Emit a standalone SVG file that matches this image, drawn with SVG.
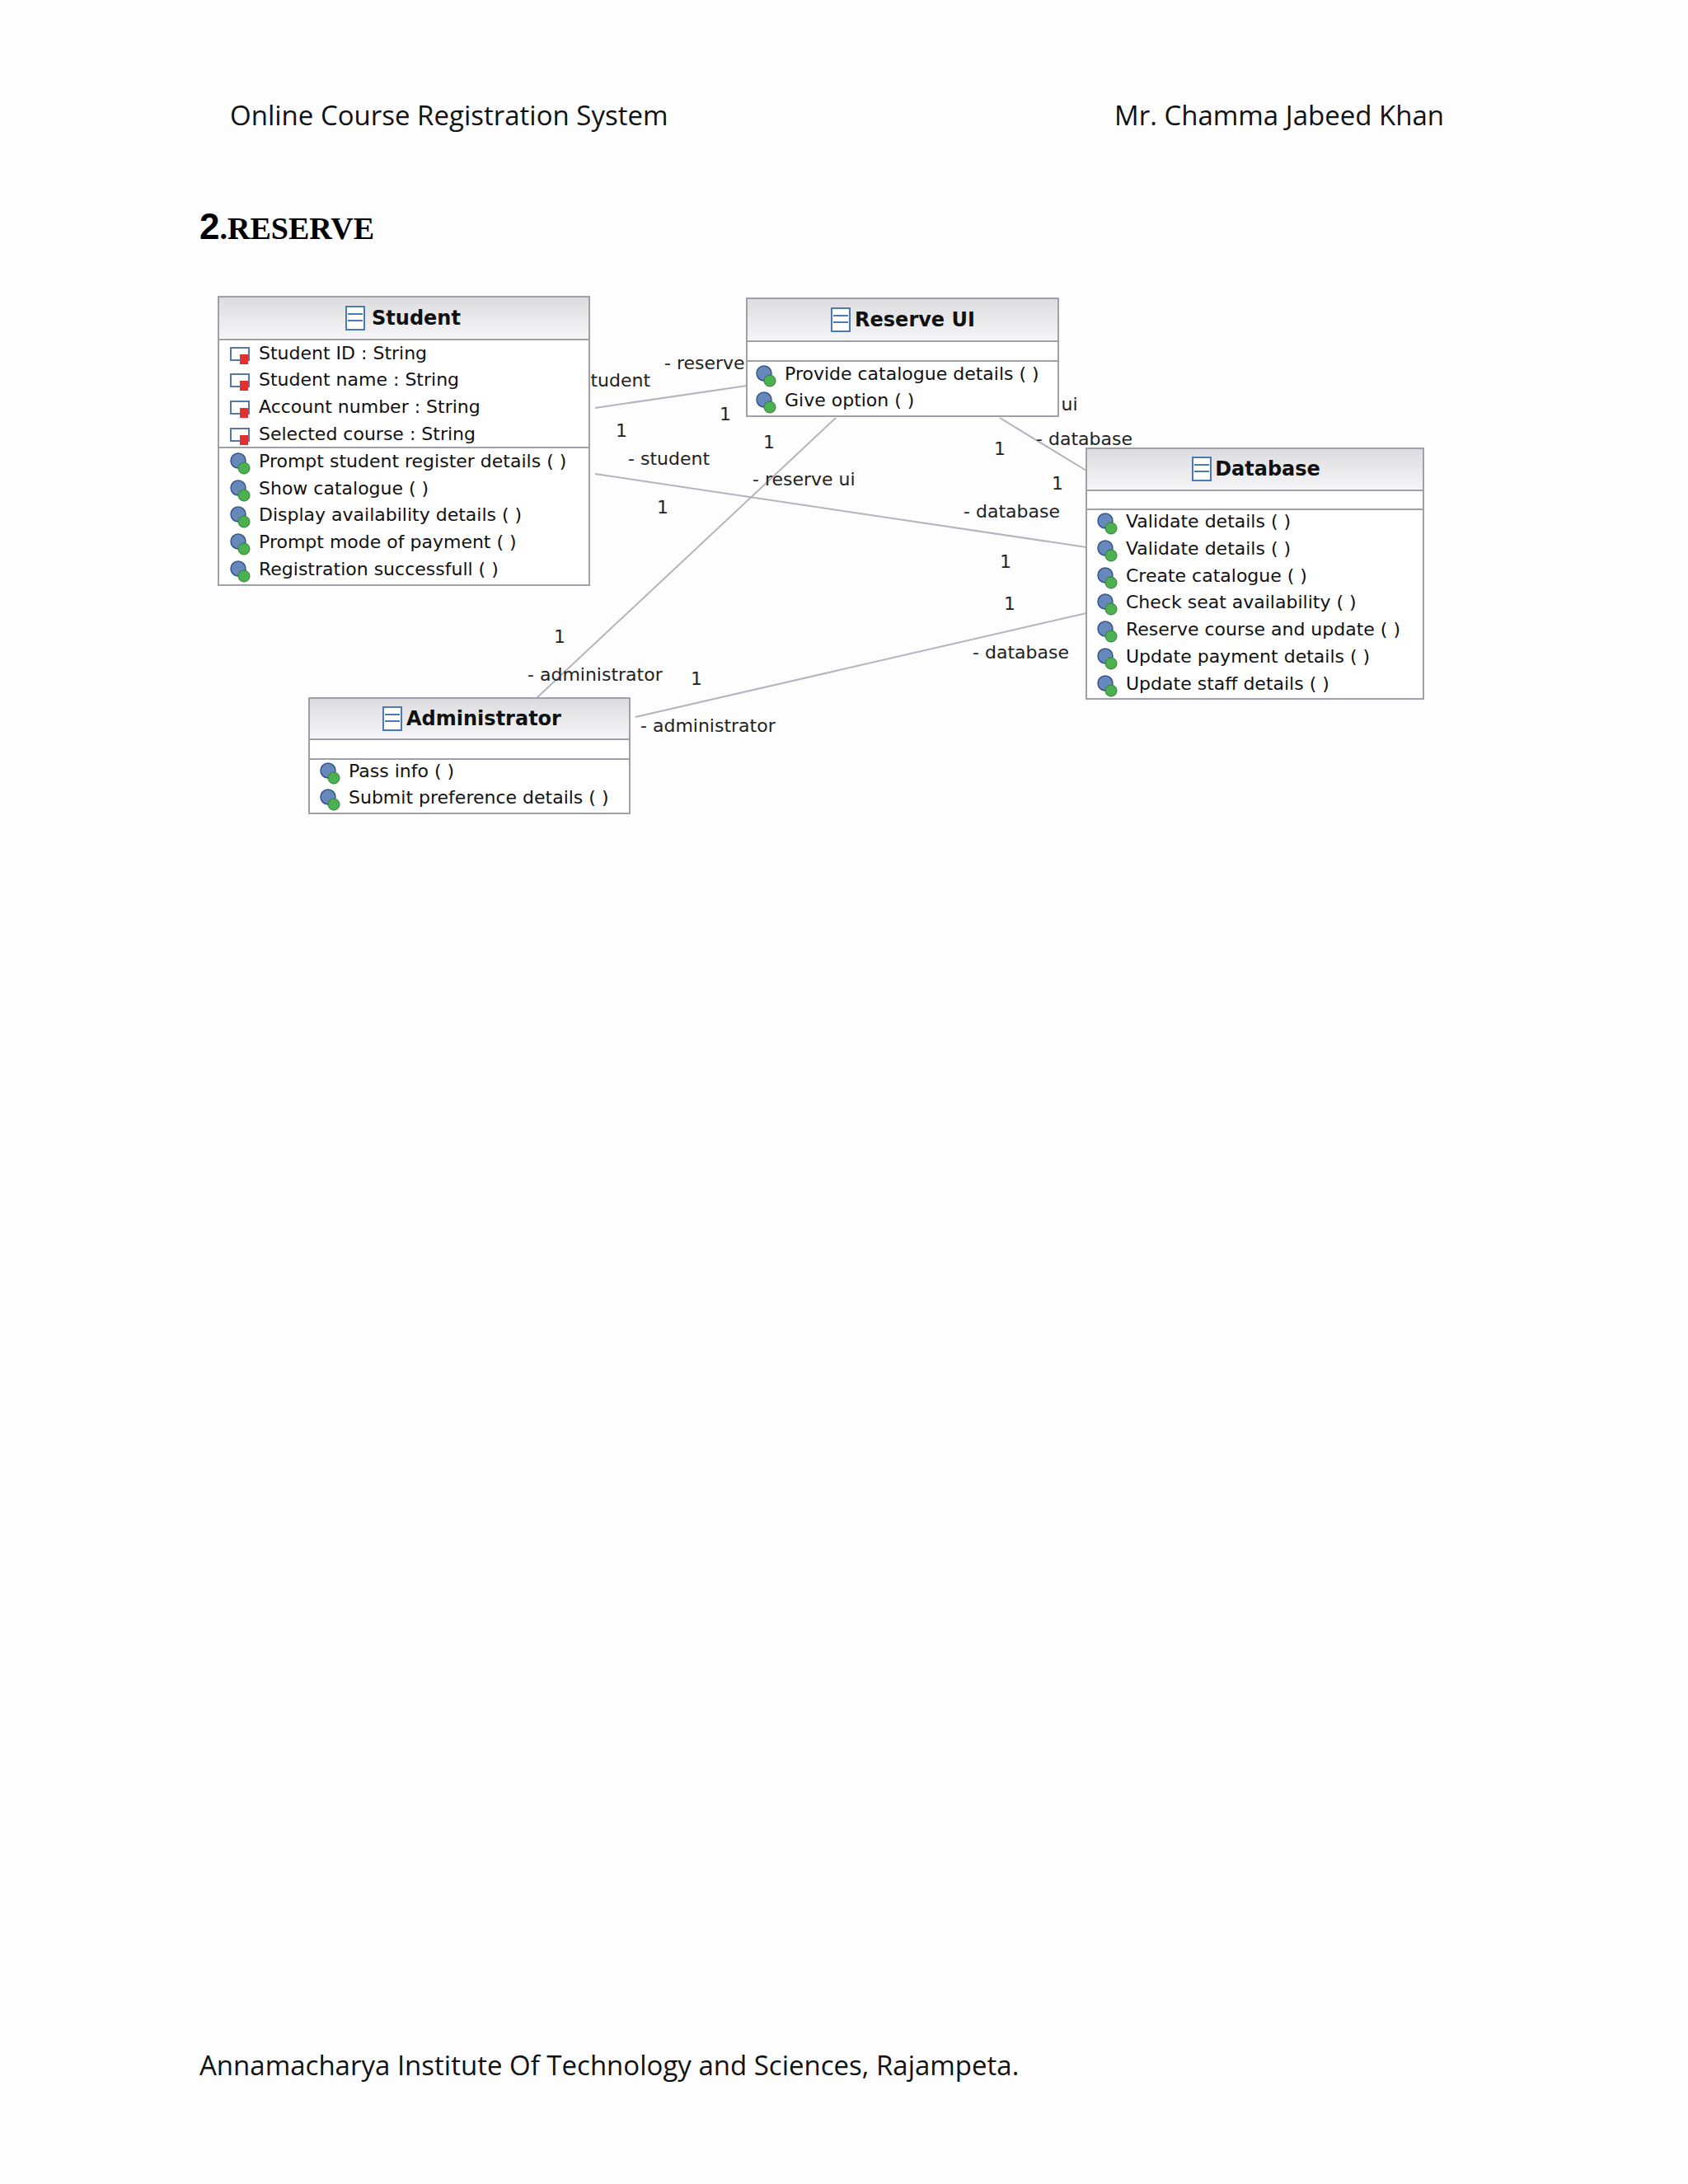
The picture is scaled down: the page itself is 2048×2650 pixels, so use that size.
<svg xmlns="http://www.w3.org/2000/svg" width="2048" height="2650" viewBox="0 0 2048 2650">
<defs>
<linearGradient id="hg" x1="0" y1="0" x2="0" y2="1"><stop offset="0" stop-color="#dcdce0"/><stop offset="1" stop-color="#f6f6f8"/></linearGradient>
<g id="ci"><rect x="0" y="0" width="22" height="28" fill="#fff" stroke="#4a78b8" stroke-width="2"/><line x1="2" y1="9" x2="20" y2="9" stroke="#4a78b8" stroke-width="2"/><line x1="2" y1="17" x2="20" y2="17" stroke="#4a78b8" stroke-width="2"/></g>
<g id="ai"><rect x="0" y="-10" width="22" height="15" fill="#fff" stroke="#5577aa" stroke-width="2"/><rect x="11" y="-2" width="10" height="12" fill="#e03030"/></g>
<g id="oi"><circle cx="9" cy="-4" r="9" fill="#6688bb" stroke="#34558a" stroke-width="1.5"/><circle cx="16" cy="5" r="7" fill="#4caf50" stroke="#2e7d32" stroke-width="1"/></g>
</defs>
<style>
.box{fill:#fff;stroke:#a0a0a8;stroke-width:2}
.hd{fill:url(#hg);stroke:#a0a0a8;stroke-width:2}
.sep{stroke:#a0a0a8;stroke-width:2}
.t{font-family:"DejaVu Sans",sans-serif;font-size:22px;fill:#111}
.ti{font-family:"DejaVu Sans",sans-serif;font-size:24px;font-weight:bold;fill:#111;text-anchor:middle}
.l{font-family:"DejaVu Sans",sans-serif;font-size:22px;fill:#222}
.c{stroke:#b4b4bc;stroke-width:2;fill:none}
.pg{font-family:"Open Sans","Liberation Sans",sans-serif;font-size:33px;fill:#111}
</style>
<rect width="2048" height="2650" fill="#fdfdfe"/>
<text class="pg" x="279" y="152">Online Course Registration System</text>
<text class="pg" x="1752" y="152" text-anchor="end">Mr. Chamma Jabeed Khan</text>
<text x="242" y="290" font-family="Liberation Serif,serif" font-weight="bold" font-size="38"><tspan font-family="Liberation Sans,sans-serif" font-size="44">2</tspan>.RESERVE</text>
<text class="pg" x="242" y="2518">Annamacharya Institute Of Technology and Sciences, Rajampeta.</text>

<g id="connectors">
<line class="c" x1="722" y1="495" x2="906" y2="468"/>
<line class="c" x1="722" y1="575" x2="1318" y2="664"/>
<line class="c" x1="1014" y1="507" x2="651" y2="847"/>
<line class="c" x1="1213" y1="507" x2="1318" y2="571"/>
<line class="c" x1="771" y1="870" x2="1318" y2="744"/>
<text class="l" x="806" y="448">- reserve ui</text>
<text class="l" x="690" y="469">- student</text>
<text class="l" x="873" y="510">1</text>
<text class="l" x="747" y="530">1</text>
<text class="l" x="762" y="564">- student</text>
<text class="l" x="926" y="544">1</text>
<text class="l" x="913" y="589">- reserve ui</text>
<text class="l" x="797" y="623">1</text>
<text class="l" x="1183" y="498">- reserve ui</text>
<text class="l" x="1206" y="552">1</text>
<text class="l" x="1257" y="540">- database</text>
<text class="l" x="1276" y="594">1</text>
<text class="l" x="1169" y="628">- database</text>
<text class="l" x="1213" y="689">1</text>
<text class="l" x="1218" y="740">1</text>
<text class="l" x="1180" y="799">- database</text>
<text class="l" x="672" y="780">1</text>
<text class="l" x="640" y="826">- administrator</text>
<text class="l" x="838" y="831">1</text>
<text class="l" x="777" y="888">- administrator</text>
</g>

<g id="student">
<rect class="box" x="265" y="360" width="450" height="350"/>
<rect class="hd" x="265" y="360" width="450" height="52"/>
<use href="#ci" x="420" y="372"/>
<text class="ti" x="505" y="394">Student</text>
<line class="sep" x1="265" y1="543" x2="715" y2="543"/>
<use href="#ai" x="280" y="432"/><text class="t" x="314" y="436">Student ID : String</text>
<use href="#ai" x="280" y="464"/><text class="t" x="314" y="468">Student name : String</text>
<use href="#ai" x="280" y="497"/><text class="t" x="314" y="501">Account number : String</text>
<use href="#ai" x="280" y="530"/><text class="t" x="314" y="534">Selected course : String</text>
<use href="#oi" x="280" y="563"/><text class="t" x="314" y="567">Prompt student register details ( )</text>
<use href="#oi" x="280" y="596"/><text class="t" x="314" y="600">Show catalogue ( )</text>
<use href="#oi" x="280" y="628"/><text class="t" x="314" y="632">Display availability details ( )</text>
<use href="#oi" x="280" y="661"/><text class="t" x="314" y="665">Prompt mode of payment ( )</text>
<use href="#oi" x="280" y="694"/><text class="t" x="314" y="698">Registration successfull ( )</text>
</g>

<g id="reserveui">
<rect class="box" x="906" y="362" width="378" height="143"/>
<rect class="hd" x="906" y="362" width="378" height="52"/>
<use href="#ci" x="1009" y="374"/>
<text class="ti" x="1110" y="396">Reserve UI</text>
<line class="sep" x1="906" y1="438" x2="1284" y2="438"/>
<use href="#oi" x="918" y="457"/><text class="t" x="952" y="461">Provide catalogue details ( )</text>
<use href="#oi" x="918" y="489"/><text class="t" x="952" y="493">Give option ( )</text>
</g>

<g id="database">
<rect class="box" x="1318" y="544" width="409" height="304"/>
<rect class="hd" x="1318" y="544" width="409" height="51"/>
<use href="#ci" x="1447" y="555"/>
<text class="ti" x="1538" y="577">Database</text>
<line class="sep" x1="1318" y1="618" x2="1727" y2="618"/>
<use href="#oi" x="1332" y="636"/><text class="t" x="1366" y="640">Validate details ( )</text>
<use href="#oi" x="1332" y="669"/><text class="t" x="1366" y="673">Validate details ( )</text>
<use href="#oi" x="1332" y="702"/><text class="t" x="1366" y="706">Create catalogue ( )</text>
<use href="#oi" x="1332" y="734"/><text class="t" x="1366" y="738">Check seat availability ( )</text>
<use href="#oi" x="1332" y="767"/><text class="t" x="1366" y="771">Reserve course and update ( )</text>
<use href="#oi" x="1332" y="800"/><text class="t" x="1366" y="804">Update payment details ( )</text>
<use href="#oi" x="1332" y="833"/><text class="t" x="1366" y="837">Update staff details ( )</text>
</g>

<g id="administrator">
<rect class="box" x="375" y="847" width="389" height="140"/>
<rect class="hd" x="375" y="847" width="389" height="50"/>
<use href="#ci" x="465" y="858"/>
<text class="ti" x="587" y="880">Administrator</text>
<line class="sep" x1="375" y1="921" x2="764" y2="921"/>
<use href="#oi" x="389" y="939"/><text class="t" x="423" y="943">Pass info ( )</text>
<use href="#oi" x="389" y="971"/><text class="t" x="423" y="975">Submit preference details ( )</text>
</g>
</svg>
